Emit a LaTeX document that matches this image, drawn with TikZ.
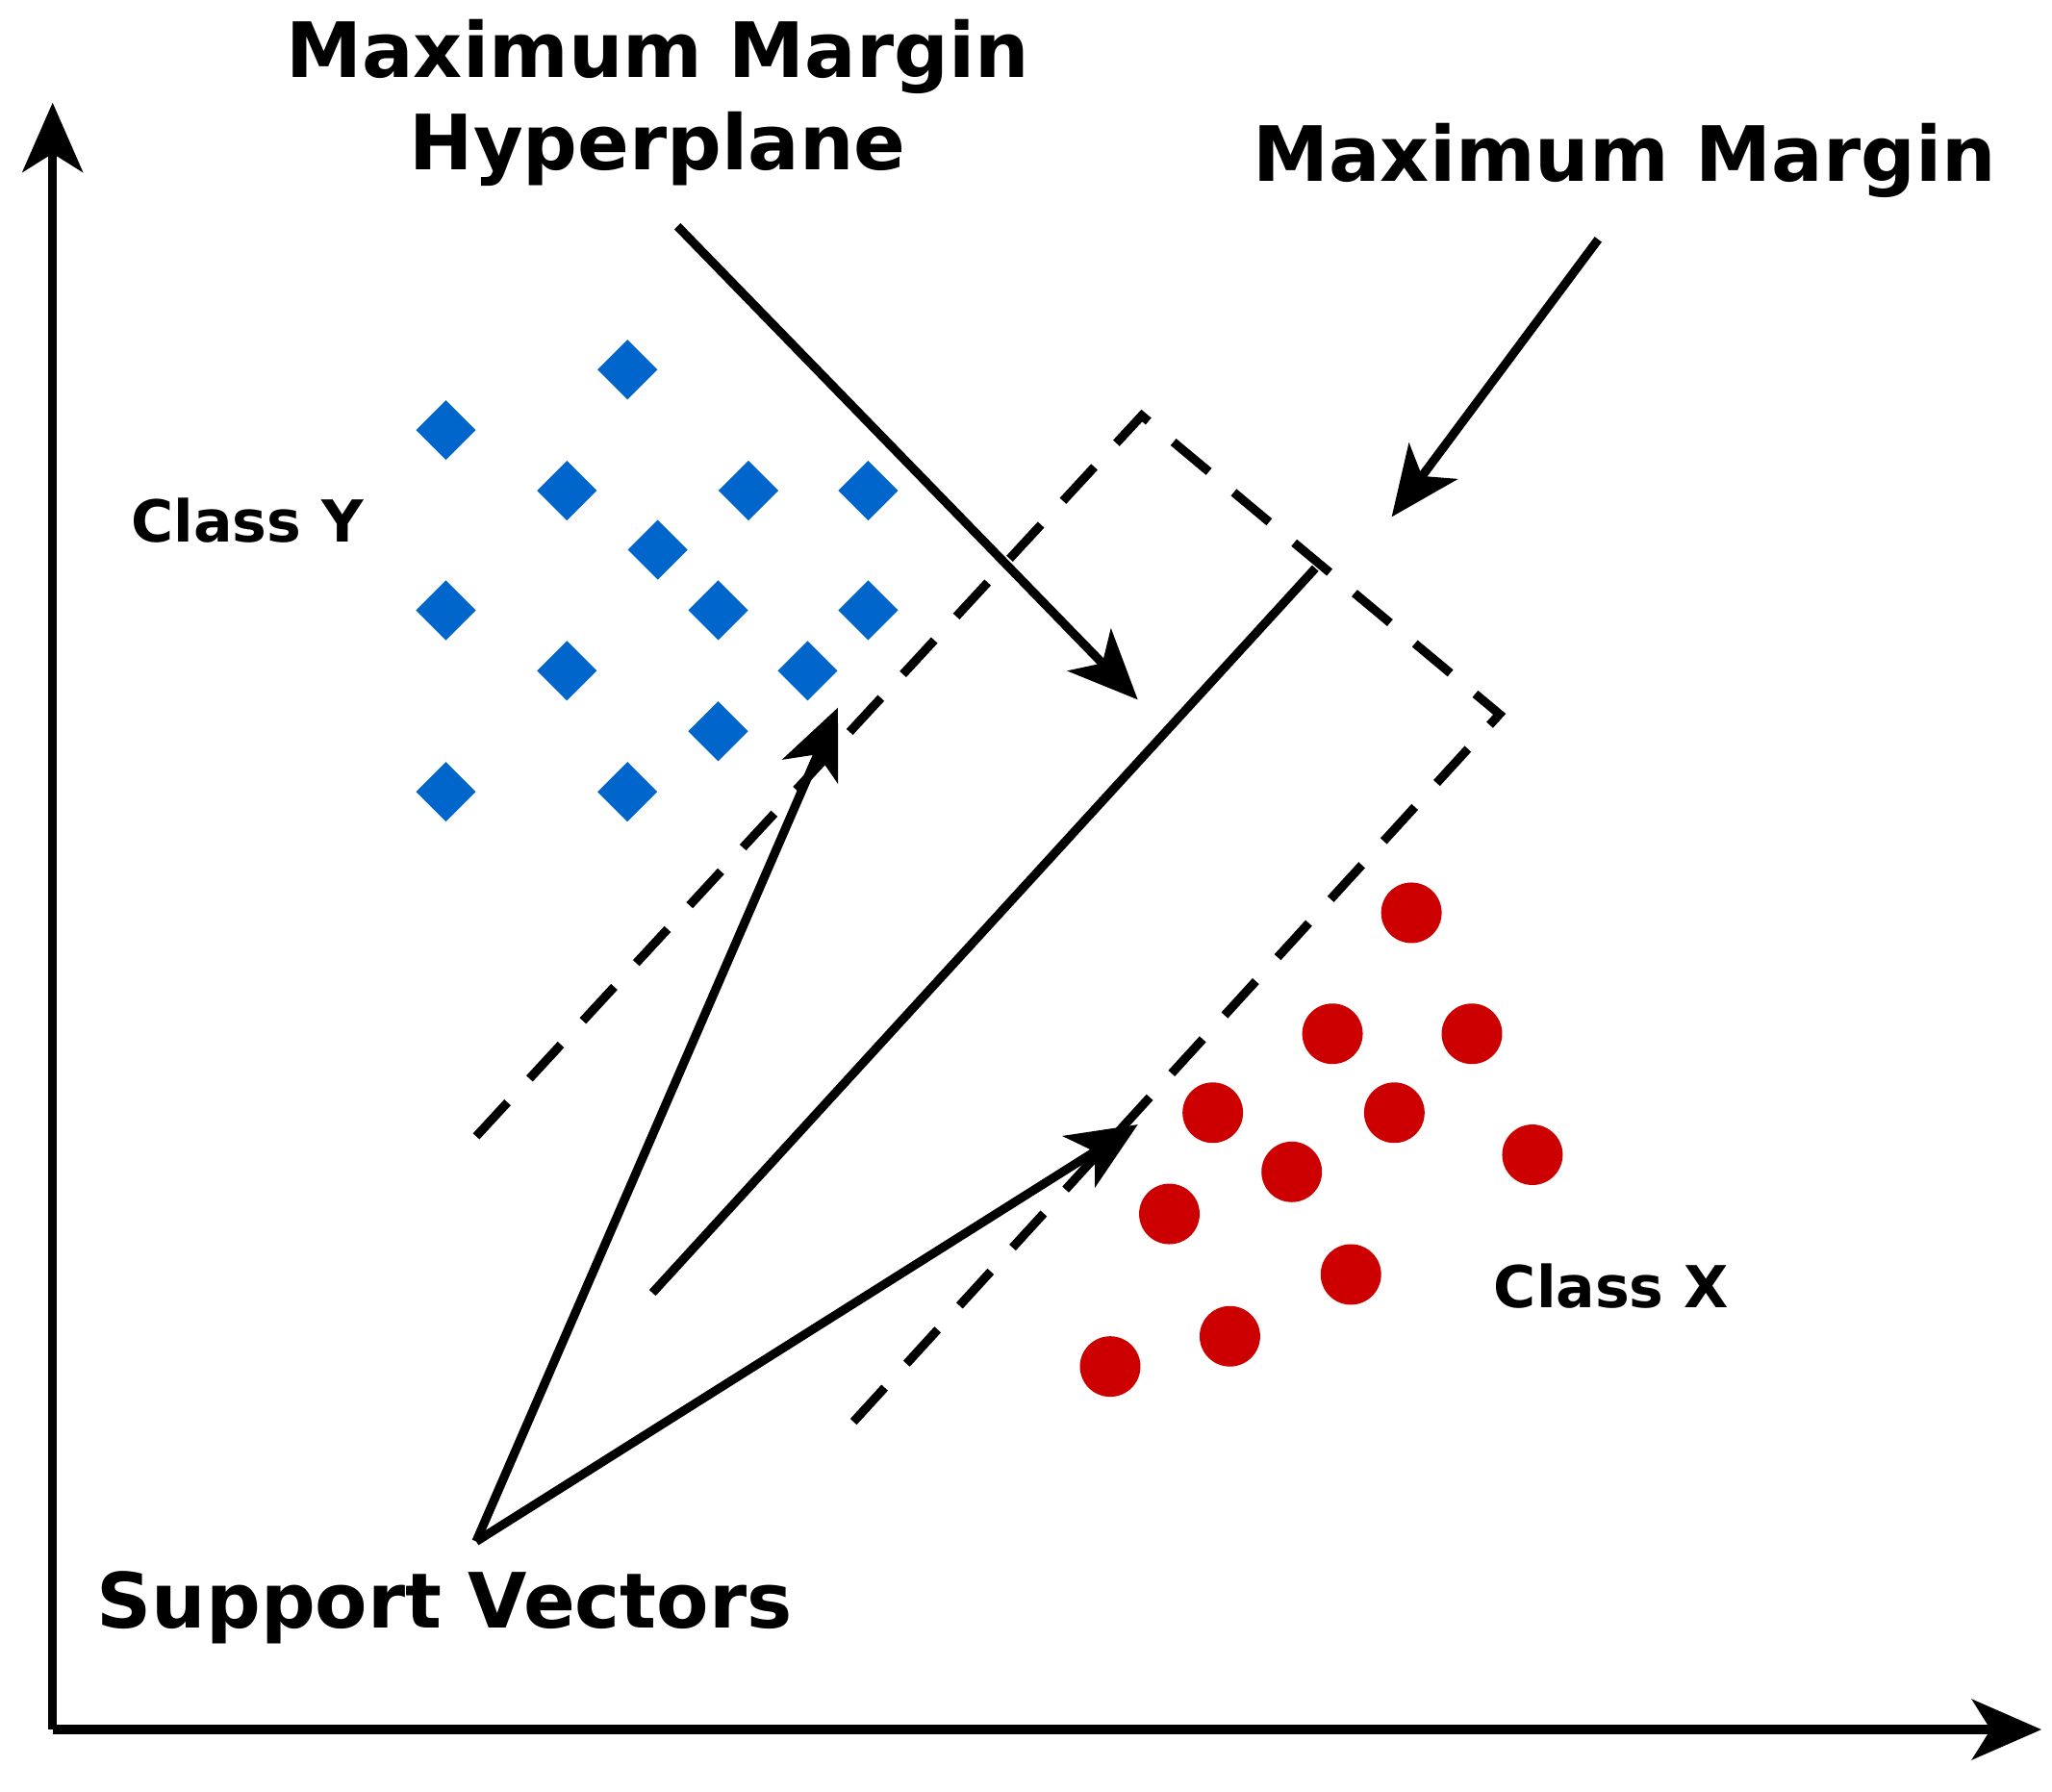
\documentclass[tikz,border=0pt]{standalone}
\usepackage{fontspec}
\setmainfont{DejaVu Sans}
\usetikzlibrary{arrows.meta,shapes.geometric}
\definecolor{dblue}{HTML}{0066CC}
\definecolor{dred}{HTML}{CC0000}
\begin{document}
\begin{tikzpicture}[x=0.01cm,y=-0.01cm,
  ln/.style={line width=1.9pt},
  arr/.style={line width=1.9pt,-{Stealth[length=15pt,width=13pt,inset=4pt]}},
  dsh/.style={line width=1.9pt,dash pattern=on 10pt off 7pt},
  dia/.style={diamond,fill=dblue,minimum size=0.46cm,inner sep=0pt},
  dot/.style={circle,fill=dred,minimum size=0.46cm,inner sep=0pt},
  big/.style={font=\bfseries\fontsize{16.5}{20}\selectfont,align=center},
  small/.style={font=\bfseries\fontsize{12.5}{15}\selectfont}]
\useasboundingbox (0,0) rectangle (1560,1362);
% axes
\coordinate (o) at (40,1315);
\coordinate (ytop) at (40,78);
\coordinate (xend) at (1552,1315);
\draw[arr] (o) -- (ytop);
\draw[arr] (o) -- (xend);
% diamonds
\foreach \x/\y [count=\i] in {477/281,339/327,431/373,569/373,660/373,500/418,339/464,546/464,660/464,431/510,614/510,546/556,339/602,477/602}
  \node[dia] (d\i) at (\x,\y) {};
% circles
\foreach \x/\y [count=\i] in {1073/694,1013/786,1119/786,922/846,1060/846,1165/878,982/891,889/923,1027/969,935/1016,844/1039}
  \node[dot] (c\i) at (\x,\y) {};
% margins
\coordinate (m1) at (362,864);
\coordinate (m2) at (868,316);
\coordinate (m3) at (1140,543);
\coordinate (m4) at (637,1094);
\draw[dsh] (m1) -- (m2) -- (m3) -- (m4);
\coordinate (h1) at (496,983);
\coordinate (h2) at (1000,432);
\draw[ln] (h1) -- (h2);
% labels
\node[big] (tH) at (500,78) {Maximum Margin\\Hyperplane};
\node[big] (tM) at (1235,122) {Maximum Margin};
\node[small] (tY) at (188,396) {Class Y};
\node[small] (tX) at (1225,978) {Class X};
\node[big] (tS) at (338,1222) {Support Vectors};
% arrows
\coordinate (a1s) at (515,172);
\coordinate (a1e) at (865,532);
\coordinate (a2s) at (1215,182);
\coordinate (a2e) at (1058,393);
\coordinate (sv) at (362,1172);
\coordinate (sv1) at (637,538);
\coordinate (sv2) at (865,855);
\draw[arr] (a1s) -- (a1e);
\draw[arr] (a2s) -- (a2e);
\draw[arr] (sv) -- (sv1);
\draw[arr] (sv) -- (sv2);
\end{tikzpicture}
\end{document}
